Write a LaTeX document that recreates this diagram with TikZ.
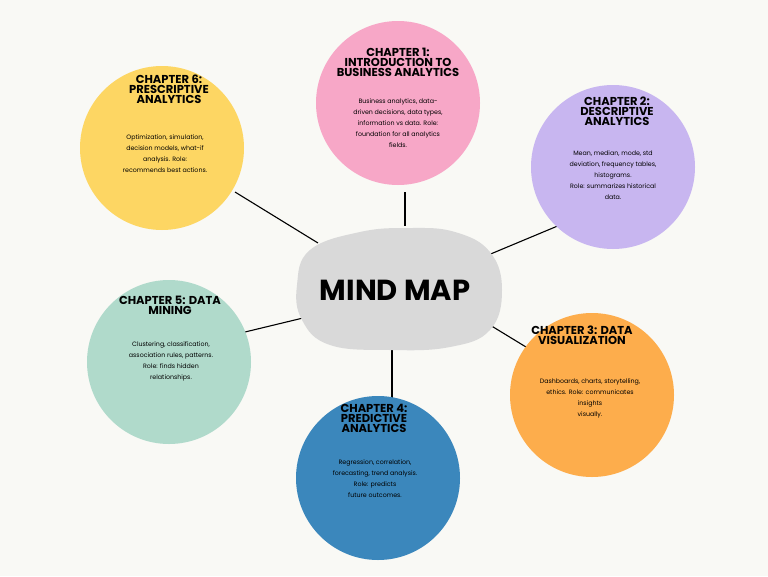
\documentclass[tikz,border=0pt]{standalone}
\usepackage{fontspec}
\setmainfont{Poppins}
\begin{document}
\begin{tikzpicture}[x=1pt,y=-1pt,
  circ/.style={circle,minimum size=164pt,inner sep=0pt},
  ttl/.style={font=\bfseries\fontsize{11.5}{10}\selectfont,align=center,text=black},
  body/.style={font=\fontsize{6.3}{11}\selectfont,align=center,text=black},
  conn/.style={line width=1.1pt,black}]
\fill[fill={rgb,255:red,249;green,249;blue,245}] (0,0) rectangle (768,576);
\useasboundingbox (0,0) rectangle (768,576);
\definecolor{cpink}{RGB}{247,167,199}
\definecolor{cpurple}{RGB}{200,182,240}
\definecolor{corange}{RGB}{253,173,76}
\definecolor{cblue}{RGB}{59,135,188}
\definecolor{cgreen}{RGB}{176,218,203}
\definecolor{cyellow}{RGB}{253,214,99}
\definecolor{cgrey}{RGB}{217,217,217}
% connectors first
\coordinate (c1a) at (405,192); \coordinate (c1b) at (405,226);
\coordinate (c2a) at (560,225); \coordinate (c2b) at (481,258);
\coordinate (c3a) at (526,347); \coordinate (c3b) at (485,322);
\coordinate (c4a) at (392,400); \coordinate (c4b) at (392,350);
\coordinate (c5a) at (245,332); \coordinate (c5b) at (303,318);
\coordinate (c6a) at (235,192); \coordinate (c6b) at (318,243);
\foreach \i in {1,...,6} \draw[conn] (c\i a) -- (c\i b);
\node[circ,fill=cpink] (n1) at (398,103) {};
\node[circ,fill=cpurple] (n2) at (613,167) {};
\node[circ,fill=corange] (n3) at (592,395) {};
\node[circ,fill=cblue] (n4) at (378,478) {};
\node[circ,fill=cgreen] (n5) at (169,362) {};
\node[circ,fill=cyellow] (n6) at (162,148) {};
\fill[cgrey] plot[smooth cycle,tension=0.7] coordinates {(310,250) (360,232) (410,228) (455,232) (490,252) (502,290) (490,330) (450,347) (390,350) (330,345) (302,320) (297,285)};
\node[font=\bfseries\fontsize{29}{30}\selectfont] (mm) at (395,290) {MIND MAP};
\node[ttl] (t1) at (398,62) {CHAPTER 1:\\INTRODUCTION TO\\BUSINESS ANALYTICS};
\node[body] (b1) at (398,123) {Business analytics, data-\\driven decisions, data types,\\information vs data. Role:\\foundation for all analytics\\fields.};
\node[ttl] (t2) at (617,111) {CHAPTER 2:\\DESCRIPTIVE\\ANALYTICS};
\node[body] (b2) at (613,175) {Mean, median, mode, std\\deviation, frequency tables,\\histograms.\\Role: summarizes historical\\data.};
\node[ttl] (t3) at (582,335) {CHAPTER 3: DATA\\VISUALIZATION};
\node[body] (b3) at (590,398) {Dashboards, charts, storytelling,\\ethics. Role: communicates\\insights\\visually.};
\node[ttl] (t4) at (374,418) {CHAPTER 4:\\PREDICTIVE\\ANALYTICS};
\node[body] (b4) at (375,479) {Regression, correlation,\\forecasting, trend analysis.\\Role: predicts\\future outcomes.};
\node[ttl] (t5) at (170,305) {CHAPTER 5: DATA\\MINING};
\node[body] (b5) at (171,361) {Clustering, classification,\\association rules, patterns.\\Role: finds hidden\\relationships.};
\node[ttl] (t6) at (169,89) {CHAPTER 6:\\PRESCRIPTIVE\\ANALYTICS};
\node[body] (b6) at (165,154) {Optimization, simulation,\\decision models, what-if\\analysis. Role:\\recommends best actions.};
\end{tikzpicture}
\end{document}
